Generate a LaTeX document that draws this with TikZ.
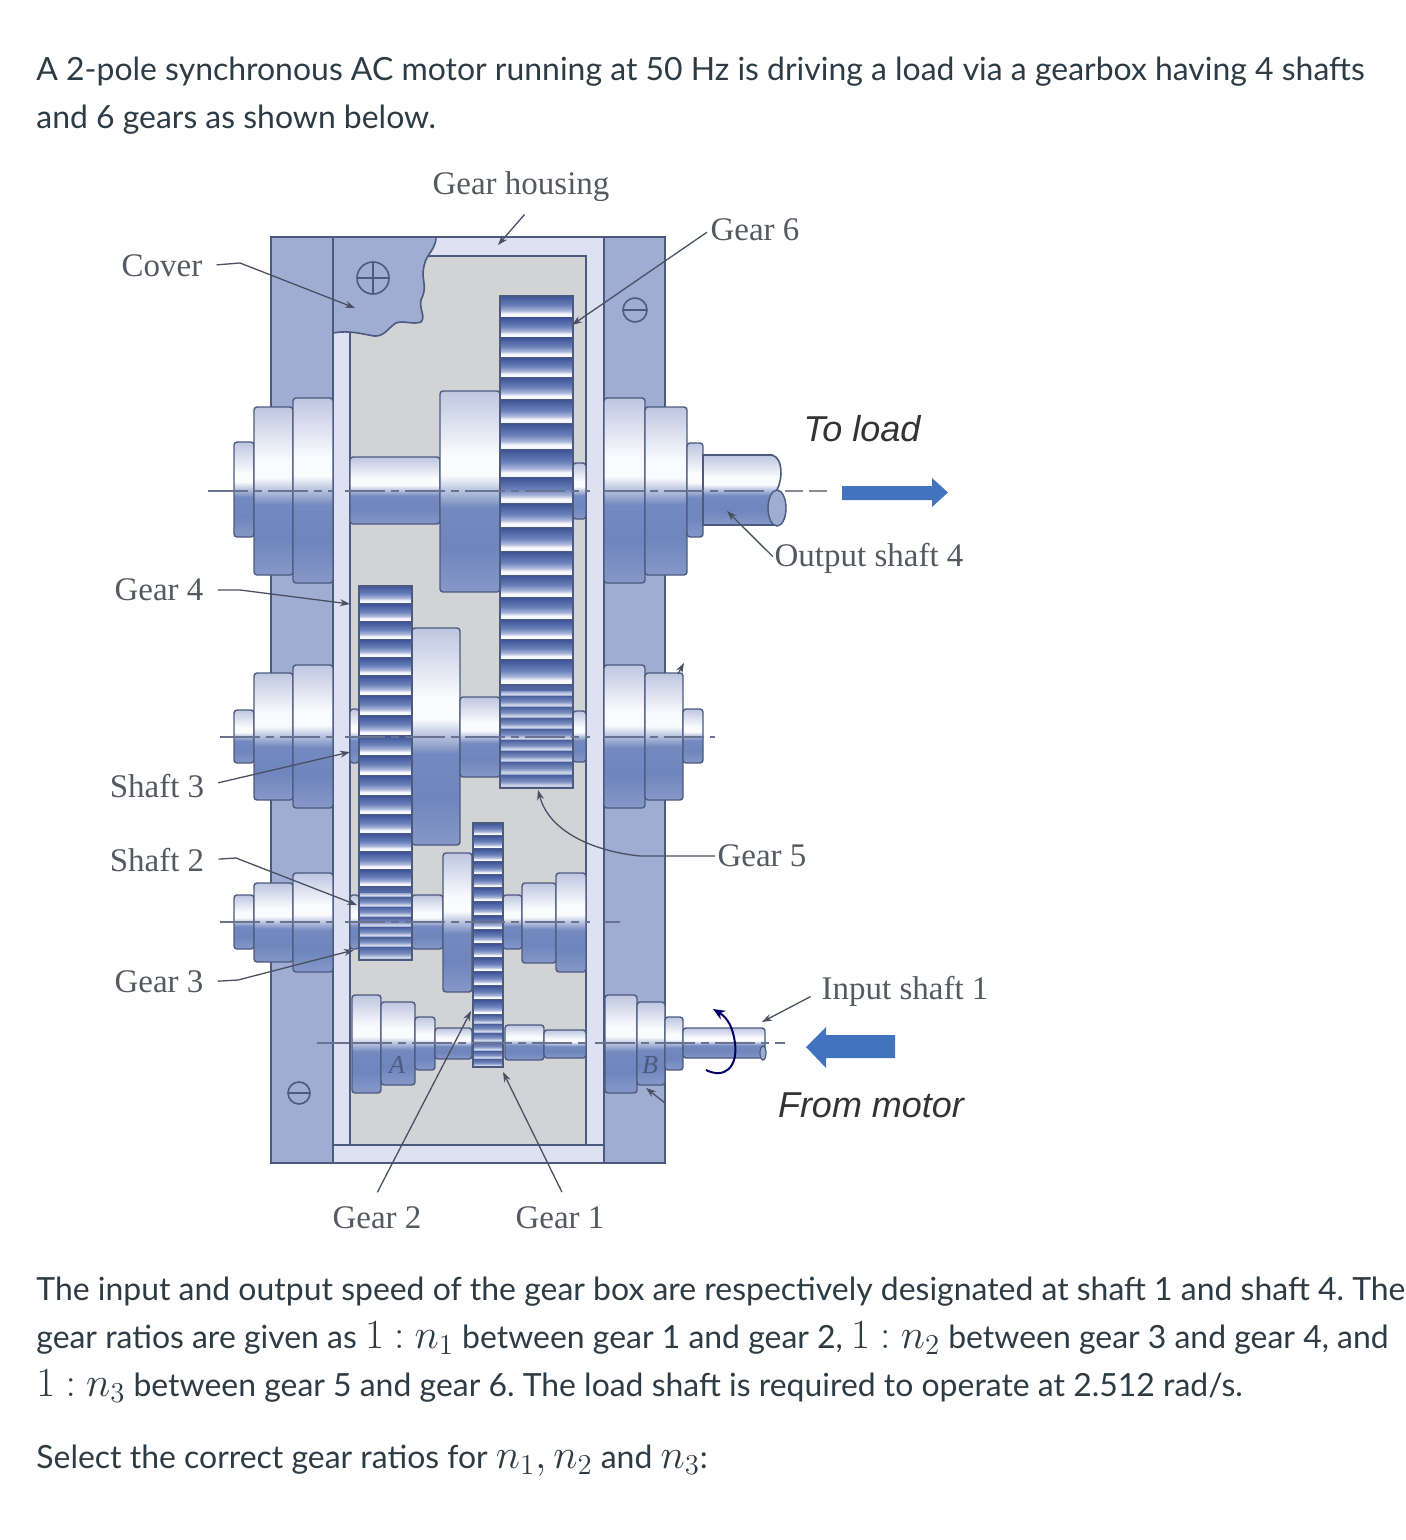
\documentclass[tikz,border=0pt]{standalone}
\usepackage{fontspec}
\setmainfont{Lato}
\newfontfamily\serifl{Liberation Serif}
\newfontfamily\sansl{Liberation Sans}
\usetikzlibrary{arrows.meta}
\definecolor{bodytxt}{HTML}{2D3B45}
\definecolor{labeltxt}{HTML}{555962}
\definecolor{blockc}{HTML}{9FADD2}
\definecolor{stripc}{HTML}{DDE1F1}
\definecolor{cavity}{HTML}{D2D3D5}
\definecolor{outl}{HTML}{4C5A7E}
\definecolor{leadc}{HTML}{4A5062}
\definecolor{arrowblue}{HTML}{4273BE}
\definecolor{ca}{HTML}{8698C8}\definecolor{cb}{HTML}{6F85BC}\definecolor{cc}{HTML}{7389BF}
\definecolor{cd}{HTML}{B4BFDC}\definecolor{ce}{HTML}{FAFBFD}\definecolor{cf}{HTML}{E0E4F1}\definecolor{cg}{HTML}{BEC6E0}
\definecolor{ta}{HTML}{3E5497}\definecolor{tb}{HTML}{6A80BA}\definecolor{tc}{HTML}{A9B5D9}\definecolor{td}{HTML}{F6F8FC}\definecolor{te}{HTML}{8E9DC9}
\definecolor{ma}{HTML}{4A5E9C}\definecolor{mb}{HTML}{7C8FC2}\definecolor{mc}{HTML}{D5DBEC}\definecolor{md}{HTML}{7A8DBF}
\pgfdeclareverticalshading{cylsh}{100bp}{color(0bp)=(ca);color(25bp)=(ca);color(36bp)=(cb);color(46bp)=(cc);color(50bp)=(cd);color(54bp)=(ce);color(59bp)=(ce);color(66bp)=(cf);color(75bp)=(cg);color(100bp)=(cg)}
\pgfdeclareverticalshading{toothsh}{100bp}{color(0bp)=(te);color(25bp)=(te);color(29bp)=(td);color(35bp)=(td);color(42bp)=(tc);color(54bp)=(tb);color(75bp)=(ta);color(100bp)=(ta)}
\pgfdeclareverticalshading{meshsh}{100bp}{color(0bp)=(md);color(25bp)=(md);color(35bp)=(mc);color(50bp)=(mb);color(75bp)=(ma);color(100bp)=(ma)}
\newcommand{\cylbox}[4]{\path[shade,shading=cylsh,draw=outl,line width=0.7pt,rounded corners=1.5pt] (#1,#2) rectangle (#3,#4);}
\newcommand{\teeth}[3]{\foreach \ya/\yb in {#3}{\path[shade,shading=toothsh] (#1,\ya) rectangle (#2,\yb);\draw[outl,line width=0.6pt] (#1,\yb) -- (#2,\yb);}}
\newcommand{\meshteeth}[3]{\foreach \ya/\yb in {#3}{\path[shade,shading=meshsh] (#1,\ya) rectangle (#2,\yb);\draw[outl,line width=0.5pt] (#1,\yb) -- (#2,\yb);}}
\newcommand{\bigmath}[1]{{\fontsize{19.5}{20}\selectfont $#1$}}
\tikzset{
  bodyline/.style={anchor=base west,inner sep=0pt,text=bodytxt,font=\fontsize{15.97}{20}\selectfont\frenchspacing},
  partlabel/.style={inner sep=0pt,text=labeltxt,font=\serifl\fontsize{16.5}{20}\selectfont},
  flowlabel/.style={inner sep=0pt,text=black!80,font=\sansl\itshape\fontsize{18}{20}\selectfont},
  letterlabel/.style={inner sep=0pt,text=outl,font=\serifl\itshape\fontsize{13}{15}\selectfont},
  lead/.style={draw=leadc,line width=0.65pt,-{Stealth[length=5pt,width=3.5pt]}},
  axisline/.style={draw=outl!85,line width=0.7pt,dash pattern=on 20pt off 3pt on 4pt off 3pt},
  housing/.style={draw=outl,line width=0.8pt},
  screw/.style={draw=outl,line width=0.8pt}
}
\begin{document}
\begin{tikzpicture}[x=0.5pt,y=-0.5pt]
\useasboundingbox (0,0) rectangle (1406,1540);
% body text
\node[bodyline] (t1) at (36,81) {A 2-pole synchronous AC motor running at 50 Hz is driving a load via a gearbox having 4 shafts};
\node[bodyline] (t2) at (36,129) {and 6 gears as shown below.};
\node[bodyline] (t3) at (36,1300) {The input and output speed of the gear box are respectively designated at shaft 1 and shaft 4. The};
\node[bodyline] (t4) at (36,1348) {gear ratios are given as \bigmath{1\mskip-0.6mu:\mskip-0.6mu n_1} between gear 1 and gear 2, \bigmath{1\mskip-0.6mu:\mskip-0.6mu n_2} between gear 3 and gear 4, and};
\node[bodyline] (t5) at (36,1396) {\bigmath{1\mskip-0.6mu:\mskip-0.6mu n_3} between gear 5 and gear 6. The load shaft is required to operate at 2.512 rad/s.};
\node[bodyline] (t6) at (36,1468) {Select the correct gear ratios for \bigmath{n_1,n_2} and \bigmath{n_3}:};
% housing
\fill[blockc] (271,237) rectangle (665,1163);
\fill[stripc] (333,237) rectangle (604,1163);
\fill[cavity] (350,256) rectangle (586,1145);
\draw[housing] (271,237) rectangle (665,1163);
\draw[housing] (333,237) -- (333,1163) (604,237) -- (604,1163);
\draw[housing] (350,256) rectangle (586,1145);
\draw[housing] (333,1145) -- (604,1145);
% cover
\filldraw[fill=blockc,draw=outl,line width=0.8pt] (333,237) -- (436,237) .. controls (436,245) and (432,250) .. (428,256)
  .. controls (424,262) and (423,270) .. (423,275) .. controls (424,285) and (426,290) .. (421,300)
  .. controls (419,310) and (426,316) .. (421,322) .. controls (412,325) and (404,320) .. (396,323)
  .. controls (388,328) and (384,337) .. (374,336) .. controls (362,334) and (350,330) .. (333,333) -- cycle;
% screws
\draw[screw] (373,278) circle (16);
\draw[screw] (357,278) -- (389,278) (373,262) -- (373,294);
\draw[screw] (635,310) circle (12);
\draw[screw] (623,310) -- (647,310);
\draw[screw] (299,1093) circle (11);
\draw[screw] (288,1093) -- (310,1093);
% shaft 4
\cylbox{234}{442}{254}{537}
\cylbox{254}{407}{293}{575}
\cylbox{293}{398}{333}{583}
\cylbox{350}{457}{440}{524}
\cylbox{440}{391}{500}{592}
\cylbox{573}{463}{586}{519}
\cylbox{604}{398}{645}{583}
\cylbox{645}{407}{687}{575}
\cylbox{687}{443}{703}{537}
\path[shade,shading=cylsh,draw=outl,line width=0.8pt] (703,455) -- (772,455) .. controls (783,458) and (783,478) .. (777,490) .. controls (786,498) and (790,520) .. (778,525) -- (703,525) -- cycle;
\filldraw[fill=blockc,draw=outl,line width=0.7pt] (777,508) ellipse (9 and 18);
% shaft 3
\cylbox{234}{710}{254}{763}
\cylbox{254}{673}{293}{800}
\cylbox{293}{665}{333}{808}
\cylbox{350}{709}{359}{763}
\cylbox{412}{628}{460}{845}
\cylbox{460}{697}{500}{777}
\cylbox{573}{711}{586}{762}
\cylbox{604}{665}{645}{808}
\cylbox{645}{673}{683}{800}
\cylbox{683}{709}{703}{763}
% shaft 2
\cylbox{234}{895}{254}{949}
\cylbox{254}{883}{293}{962}
\cylbox{293}{873}{333}{972}
\cylbox{350}{895}{359}{949}
\cylbox{412}{895}{443}{949}
\cylbox{443}{853}{472}{992}
\cylbox{503}{895}{522}{949}
\cylbox{522}{883}{556}{963}
\cylbox{556}{873}{586}{972}
% shaft 1
\cylbox{352}{995}{381}{1093}
\cylbox{381}{1002}{415}{1085}
\cylbox{415}{1017}{435}{1070}
\cylbox{435}{1028}{472}{1059}
\cylbox{505}{1025}{544}{1060}
\cylbox{544}{1030}{586}{1058}
\cylbox{605}{995}{637}{1093}
\cylbox{637}{1002}{665}{1085}
\cylbox{665}{1017}{683}{1070}
\cylbox{683}{1028}{765}{1058}
\filldraw[fill=blockc,draw=outl,line width=0.6pt] (763,1053) ellipse (3 and 7);
% gear 6
\teeth{500}{573}{296/318,318/338,338/358,358/378,378/400,400/424,424/450,450/478,478/504,504/528,528/552,552/576,576/598,598/620,620/640,640/660,660/685}
\meshteeth{500}{573}{685/696,696/707,707/718,718/729,729/740,740/751,751/762,762/775,775/788}
\fill[ma,opacity=.7] (500,685) rectangle (573,691);
\draw[outl,line width=0.8pt] (500,296) rectangle (573,788);
% gear 4
\teeth{359}{412}{586/604,604/622,622/640,640/658,658/676,676/696,696/716,716/736,736/756,756/776,776/796,796/815,815/834,834/852,852/870,870/887}
\meshteeth{359}{412}{887/897,897/907,907/917,917/927,927/937,937/947,947/960}
\fill[ma,opacity=.7] (359,887) rectangle (412,893);
\draw[outl,line width=0.8pt] (359,586) rectangle (412,960);
% small gear on shaft 2
\teeth{473}{503}{823/836,836/849,849/862,862/875,875/888,888/902,902/916,916/930,930/944,944/958,958/972,972/986,986/1000,1000/1015}
\meshteeth{473}{503}{1015/1024,1024/1033,1033/1042,1042/1051,1051/1059,1059/1067}
\draw[outl,line width=0.8pt] (473,823) rectangle (503,1067);
% axes
\draw[axisline] (208,491) -- (333,491) (345,491) -- (590,491) (604,491) -- (768,491);
\draw[draw=labeltxt!70,line width=0.8pt,dash pattern=on 9pt off 3pt] (785,491) -- (832,491);
\draw[axisline] (220,737) -- (333,737) (345,737) -- (590,737) (604,737) -- (715,737);
\draw[axisline] (220,922) -- (333,922) (345,922) -- (590,922) (604,922) -- (620,922);
\draw[axisline] (317,1043) -- (349,1043) (352,1043) -- (586,1043) (595,1043) -- (785,1043);
% letters
\node[letterlabel] (lA) at (397,1065) {A};
\node[letterlabel] (lB) at (650,1065) {B};
% rotation arrow
\draw[draw=black!10!blue!45!black,line width=1pt,-{Stealth[length=6pt,width=5pt]}] (706,1070) .. controls (724,1079) and (738,1068) .. (735,1043) .. controls (733,1028) and (728,1018) .. (713,1009);
% flow arrows
\fill[arrowblue] (842,486) -- (932,486) -- (932,478) -- (948,492.5) -- (932,507) -- (932,500) -- (842,500) -- cycle;
\fill[arrowblue] (895,1035) -- (826,1035) -- (826,1027) -- (806,1047) -- (826,1068) -- (826,1058) -- (895,1058) -- cycle;
% labels
\node[partlabel] (lHousing) at (521,187) {Gear housing};
\node[partlabel] (lCover) at (162,266) {Cover};
\node[partlabel] (lG6) at (755,230) {Gear 6};
\node[flowlabel] (lLoad) at (862,429) {To load};
\node[partlabel] (lOut) at (869,558) {Output shaft 4};
\node[partlabel] (lG4) at (159,590) {Gear 4};
\node[partlabel] (lS3) at (157,786) {Shaft 3};
\node[partlabel] (lS2) at (157,860) {Shaft 2};
\node[partlabel] (lG5) at (762,856) {Gear 5};
\node[partlabel] (lG3) at (159,982) {Gear 3};
\node[partlabel] (lIn) at (905,991) {Input shaft 1};
\node[flowlabel] (lMotor) at (871,1105) {From motor};
\node[partlabel] (lG2) at (377,1218) {Gear 2};
\node[partlabel] (lG1) at (560,1218) {Gear 1};
% leader targets
\coordinate (tHousing) at (498,245);
\coordinate (tCover) at (355,308);
\coordinate (bCover) at (240,263);
\coordinate (tG6) at (572,325);
\coordinate (tOut) at (727,511);
\coordinate (tG4) at (350,604);
\coordinate (bG4) at (240,590);
\coordinate (tS3) at (350,752);
\coordinate (tS2) at (357,905);
\coordinate (bS2) at (236,858);
\coordinate (tG3) at (354,950);
\coordinate (bG3) at (238,980);
\coordinate (tG2) at (471,1011);
\coordinate (tG1) at (503,1072);
\coordinate (tG5) at (538,790);
\coordinate (tIn) at (762,1022);
\coordinate (tB) at (646,1088);
\coordinate (fB) at (665,1103);
\coordinate (tS3r) at (684,663);
\coordinate (fS3r) at (678,674);
% leaders
\draw[lead,shorten <=8pt] (lHousing.south) ++(14,0) -- (tHousing);
\draw[lead,shorten <=7pt] (lCover.east) -- (bCover) -- (tCover);
\draw[lead,shorten <=2pt] (lG6.west) -- (tG6);
\draw[lead,shorten <=1pt] (lOut.west) -- (tOut);
\draw[lead,shorten <=7pt] (lG4.east) -- (bG4) -- (tG4);
\draw[lead,shorten <=7pt] (lS3.east) -- (tS3);
\draw[lead,shorten <=7pt] (lS2.east) -- (bS2) -- (tS2);
\draw[lead,shorten <=7pt] (lG3.east) -- (bG3) -- (tG3);
\draw[lead,shorten <=8pt] (lG2.north) ++(-7,0) -- (tG2);
\draw[lead,shorten <=8pt] (lG1.north) ++(9,0) -- (tG1);
\draw[lead,shorten <=1pt] (lG5.west) -- (640,856) .. controls (600,852) and (550,835) .. (tG5);
\draw[lead,shorten <=6pt] (lIn.west) -- (tIn);
\draw[lead] (fB) -- (tB);
\draw[lead] (fS3r) -- (tS3r);
\end{tikzpicture}
\end{document}
